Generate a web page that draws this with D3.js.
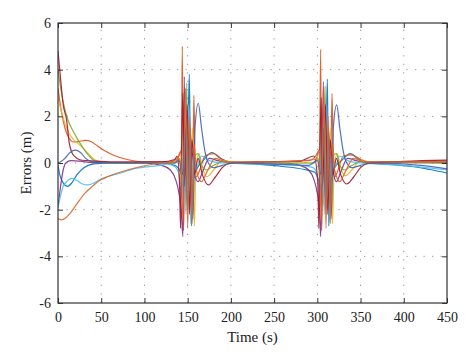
<!DOCTYPE html>
<html>
<head>
<meta charset="utf-8">
<script src="https://cdn.jsdelivr.net/npm/d3@7"></script>
<style>
body { margin: 0; background: #fff; }
text { font-family: "Liberation Serif", "DejaVu Serif", serif; fill: #222; }
</style>
</head>
<body>
<script>
let width = 474;
let height = 363;
let margin = { left: 58, right: 27, top: 23, bottom: 60 };

// tick labels
const xTicks = [0, 50, 100, 150, 200, 250, 300, 350, 400, 450];
const yTicks = [-6, -4, -2, 0, 2, 4, 6];

// line colours (matlab order, repeated)
const colors = ['#0072BD', '#D95319', '#EDB120', '#7E2F8E', '#77AC30', '#4DBEEE', '#A2142F', '#3F62B5', '#D9662A'];

// error traces, [time, error]
const e1 = [[0,-0.1],[2,-0.5],[6,-0.85],[11,-1.0],[16,-0.85],[22,-0.5],[30,-0.2],[40,-0.05],[60,0],[120,0],[135,-0.1],[142,-0.4],[147,-1.2],[150,0.5],[151.9,3.8],[153,0.5],[154.6,-2.7],[156,-0.8],[160,-0.3],[168,0.1],[178,0.45],[188,0.2],[200,0.02],[230,-0.05],[260,-0.15],[285,-0.28],[297,-0.4],[302,-0.8],[307,-1.4],[310,0.6],[311.6,3.6],[312.4,0.5],[313.2,-2.7],[315,-0.8],[320,-0.2],[328,0.1],[338,0.4],[348,0.15],[360,0],[380,-0.05],[410,-0.15],[430,-0.28],[450,-0.43]];
const e2 = [[0,3.2],[4,2.2],[8,1.5],[13,1.05],[18,0.9],[24,0.92],[32,0.97],[38,0.92],[45,0.75],[55,0.5],[65,0.32],[80,0.15],[100,0.05],[130,0.05],[138,0.2],[141,0.4],[142.8,0.6],[143.8,5.0],[145.2,-2.9],[147,0.3],[149,-1.0],[152,1.0],[155.5,-1.5],[157.2,2.9],[158.5,0],[160,-0.6],[164,-0.3],[170,0.3],[180,0.4],[190,0.15],[205,0.03],[250,0.05],[290,0.1],[298,0.3],[301,0.5],[302.6,0.6],[303.9,4.87],[305,-2.9],[307,0.3],[309,-1.0],[312,1.0],[315,-1.5],[317,2.99],[318.5,0],[320,-0.6],[324,-0.3],[330,0.3],[340,0.35],[350,0.15],[365,0.03],[400,0.05],[450,0.08]];
const e3 = [[0,2.8],[4,2.2],[8,1.7],[14,1.2],[18,1.0],[23,0.84],[30,0.6],[35,0.41],[43,0.13],[55,0.03],[100,0],[135,0],[141,0.15],[143,-0.4],[145,2.5],[147,-1.8],[150,2.0],[153,-1.0],[155.5,1.5],[157.7,-2.7],[159.5,-0.2],[163,0.4],[167,-0.2],[172,-0.59],[180,-0.3],[190,0.1],[200,0.05],[250,0],[295,0],[301,0.15],[303,-0.4],[305,2.4],[307,-1.8],[310,2.0],[313,-1.0],[315.5,1.5],[317.5,-2.6],[319.5,-0.2],[323,0.4],[327,-0.2],[332,-0.55],[340,-0.3],[350,0.1],[360,0.05],[450,0.02]];
const e4 = [[0,-1.9],[3,-1.0],[6,-0.3],[9,0],[15,0.1],[25,0.08],[40,0.02],[100,0],[120,-0.1],[130,-0.3],[136,-0.7],[140,-1.3],[142.5,-2.0],[144.5,-3.16],[146.1,3.7],[147.5,-1.5],[150,1.5],[152.5,-2.0],[155,0.5],[158,-0.5],[162,-0.8],[167,-0.4],[175,0.2],[185,0.1],[200,0],[260,0],[280,-0.1],[290,-0.3],[296,-0.7],[300,-1.3],[302.5,-2.0],[303.9,-3.16],[307,3.49],[308.5,-1.5],[311,1.5],[313.5,-2.0],[316,0.5],[319,-0.5],[322,-0.8],[327,-0.4],[335,0.2],[345,0.1],[360,0],[450,0.02]];
const e5 = [[0,4.0],[4,3.0],[8,2.3],[12,1.8],[17,1.4],[23,1.0],[28,0.7],[33,0.43],[40,0.15],[45,0.05],[60,0],[135,0],[141,0.2],[143,-1.0],[147.8,0.5],[148.9,3.43],[150.5,-1.5],[153,1.5],[156,-2.2],[158,0.3],[162,0.4],[166,-0.1],[172,-0.3],[180,-0.1],[190,0.05],[210,0],[295,0],[301,0.2],[303,-1.0],[308,0.5],[309,3.3],[310.5,-1.5],[313,1.5],[316,-2.2],[318,0.3],[322,0.4],[326,-0.1],[332,-0.3],[340,-0.1],[350,0.05],[450,0]];
const e6 = [[0,-1.9],[3,-1.4],[6,-1.0],[10,-0.8],[16,-0.66],[22,-0.75],[28,-0.9],[35,-0.94],[42,-0.85],[49,-0.7],[60,-0.55],[72,-0.44],[87,-0.25],[100,-0.18],[118,-0.1],[126,-0.05],[135,-0.15],[140,-0.5],[143,-1.5],[146,1.0],[148,-2.2],[151,2.5],[153.5,-2.6],[156,0.3],[160,-0.2],[166,0.3],[175,0.1],[190,0],[240,-0.05],[280,-0.1],[295,-0.2],[300,-0.5],[303,-1.5],[306,1.0],[308,-2.2],[311,2.5],[313.5,-2.5],[316,0.3],[320,-0.2],[326,0.3],[335,0.1],[350,0],[400,-0.1],[450,-0.3]];
const e7 = [[0,4.8],[3,3.6],[6,2.5],[10,1.84],[13,0.86],[16,0.45],[19,0.29],[25,0.14],[35,0.1],[60,0.05],[120,0.05],[135,0.15],[138,0.3],[140.5,-0.8],[141.8,-2.8],[143,0.5],[144.5,3.0],[146,-1.0],[149.5,2.5],[152,-2.2],[155,1.0],[158,-0.5],[162,0.2],[167,-0.5],[174,-0.94],[182,-0.6],[190,-0.2],[200,0],[230,0.05],[280,0.08],[296,0.3],[300.5,-0.8],[301.8,-2.8],[303,0.5],[304.5,2.8],[306,-1.0],[309.5,2.5],[312,-2.2],[315,1.0],[318,-0.5],[322,0.2],[327,-0.5],[334,-0.9],[342,-0.6],[350,-0.2],[360,0],[400,0.07],[450,0.12]];
const e8 = [[0,0],[3,0.05],[8,0.2],[14,0.45],[20,0.55],[26,0.45],[32,0.2],[40,0.05],[60,0],[135,0],[140,0.1],[144,-0.5],[147,1.5],[150,-2.0],[153,1.5],[156,-2.4],[158.5,1.5],[162.3,2.56],[166,1.5],[170,0.5],[174,0],[180,-0.2],[190,-0.1],[205,0],[250,-0.05],[290,-0.1],[300,0.1],[304,-0.5],[307,1.5],[310,-2.0],[313,1.5],[316,-2.4],[318.5,1.5],[322.4,2.49],[326,1.5],[330,0.5],[334,0],[340,-0.2],[350,-0.1],[365,0],[420,-0.1],[450,-0.25]];
const e9 = [[0,-2.37],[4,-2.44],[9,-2.35],[14,-2.16],[20,-1.85],[25,-1.59],[31,-1.3],[37,-1.09],[43,-0.9],[49,-0.73],[58,-0.58],[68,-0.44],[80,-0.3],[95,-0.16],[118,0],[135,0.05],[138,0.15],[142,0.5],[144.5,-2.5],[147.5,3.2],[150,-2.8],[152.5,2.0],[155,-2.6],[157.5,0.8],[160,-0.3],[166,-0.8],[172,-0.4],[182,0.2],[195,0.05],[250,0.05],[298,0.15],[302,0.5],[304.5,-2.5],[307.5,3.2],[310,-2.8],[312.5,2.0],[315,-2.6],[317.5,0.8],[320,-0.3],[326,-0.8],[332,-0.4],[342,0.2],[355,0.05],[450,0.05]];

const traces = [e1, e2, e3, e4, e5, e6, e7, e8, e9];

let svg = d3.select('body').append('svg')
	.attr('width', width)
	.attr('height', height);

let x = d3.scaleLinear().domain([0, 450]).range([margin.left, width - margin.right]);
let y = d3.scaleLinear().domain([-6, 6]).range([height - margin.bottom, margin.top]);

let x0 = x.range()[0], x1 = x.range()[1];
let y0 = y.range()[0], y1 = y.range()[1];

// dotted grid
let grid = svg.append('g')
	.style('stroke', '#9a9a9a')
	.style('stroke-width', 1)
	.style('stroke-dasharray', '1.3,7.2');

grid.selectAll('.gx').data(xTicks.slice(1, -1)).enter().append('line')
	.attr('x1', d => x(d)).attr('x2', d => x(d))
	.attr('y1', y0).attr('y2', y1);

grid.selectAll('.gy').data(yTicks.slice(1, -1)).enter().append('line')
	.attr('y1', d => y(d)).attr('y2', d => y(d))
	.attr('x1', x0).attr('x2', x1);

svg.append('clipPath').attr('id', 'plot')
	.append('rect')
	.attr('x', x0).attr('y', y1)
	.attr('width', x1 - x0).attr('height', y0 - y1);

let line = d3.line()
	.x(d => x(d[0]))
	.y(d => y(d[1]))
	.curve(d3.curveMonotoneX);

svg.append('g').attr('clip-path', 'url(#plot)')
	.selectAll('path').data(traces).enter().append('path')
	.attr('d', line)
	.style('fill', 'none')
	.style('stroke', (d, i) => colors[i])
	.style('stroke-width', 1.2)
	.style('stroke-opacity', 0.9);

// axes, ticks inward on all sides
let axisStyle = g => {
	g.select('.domain').remove();
	g.selectAll('.tick line').style('stroke', '#333');
	g.selectAll('text').style('font-size', '14px').style('fill', '#222')
		.style('font-family', '"Liberation Serif", "DejaVu Serif", serif');
};

svg.append('g').attr('transform', 'translate(0,' + y0 + ')')
	.call(d3.axisBottom(x).tickValues(xTicks).tickSize(-5).tickPadding(9).tickFormat(d3.format('d')))
	.call(axisStyle);
svg.append('g').attr('transform', 'translate(0,' + y1 + ')')
	.call(d3.axisTop(x).tickValues(xTicks).tickSize(-5).tickFormat(''))
	.call(axisStyle);
svg.append('g').attr('transform', 'translate(' + x0 + ',0)')
	.call(d3.axisLeft(y).tickValues(yTicks).tickSize(-5).tickPadding(7).tickFormat(d => d < 0 ? '-' + Math.abs(d) : d))
	.call(axisStyle);
svg.append('g').attr('transform', 'translate(' + x1 + ',0)')
	.call(d3.axisRight(y).tickValues(yTicks).tickSize(-5).tickFormat(''))
	.call(axisStyle);

svg.append('rect')
	.attr('x', x0).attr('y', y1)
	.attr('width', x1 - x0).attr('height', y0 - y1)
	.style('fill', 'none')
	.style('stroke', '#333')
	.style('stroke-width', 1.2);

svg.append('text')
	.attr('x', (x0 + x1) / 2).attr('y', 342)
	.attr('text-anchor', 'middle')
	.style('font-size', '15px')
	.text('Time (s)');

svg.append('text')
	.attr('transform', 'translate(31,' + (y(0)) + ') rotate(-90)')
	.attr('text-anchor', 'middle')
	.style('font-size', '15px')
	.text('Errors (m)');
</script>
</body>
</html>
